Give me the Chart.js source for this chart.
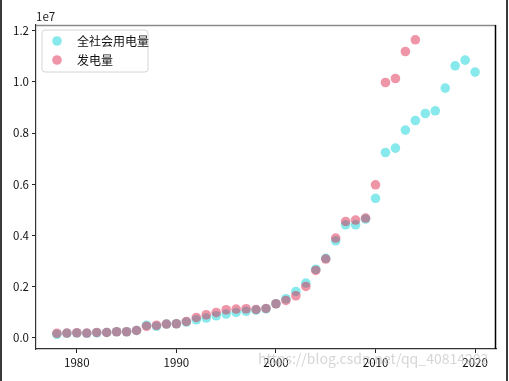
<!DOCTYPE html>
<html>
<head>
<meta charset="utf-8">
<script src="https://cdn.jsdelivr.net/npm/chart.js@4"></script>
<style>
html,body{margin:0;padding:0;background:#fff;}
#wrap{width:509px;height:381px;position:relative;}
</style>
</head>
<body>
<div id="wrap"><canvas id="c" width="509" height="381"></canvas></div>
<script>
const consumptionYears = [1978,1979,1980,1981,1982,1983,1984,1985,1986,1987,1988,1989,1990,1991,1992,1993,1994,1995,1996,1997,1998,1999,2000,2001,2002,2003,2004,2005,2006,2007,2008,2009,2010,2011,2012,2013,2014,2015,2016,2017,2018,2019,2020];
const consumption = [137000,176000,184000,176000,195000,207000,234000,234000,285000,488000,449000,535000,547000,613000,703000,770000,859000,926000,988000,1035000,1082000,1133000,1328000,1523000,1809000,2137000,2676000,3105000,3789000,4414000,4414000,4637000,5449000,7238000,7410000,8113000,8488000,8762000,8867000,9754000,10625000,10848000,10379000];
const generationYears = [1978,1979,1980,1981,1982,1983,1984,1985,1986,1987,1988,1989,1990,1991,1992,1993,1994,1995,1996,1997,1998,1999,2000,2001,2002,2003,2004,2005,2006,2007,2008,2009,2010,2011,2012,2013,2014];
const generation = [176000,184000,195000,184000,207000,207000,234000,234000,285000,449000,488000,535000,547000,637000,793000,898000,988000,1094000,1121000,1133000,1105000,1145000,1328000,1457000,1641000,2004000,2629000,3074000,3895000,4543000,4598000,4676000,5977000,9973000,10129000,11184000,11641000];
const seriesNames = ['全社会用电量','发电量'];
const xTicks = [1980,1990,2000,2010,2020];
const yTicks = [0,2000000,4000000,6000000,8000000,10000000,12000000];

const FONT = '"Noto Sans CJK SC","Noto Sans",sans-serif';
const cyan = 'rgba(0,208,212,0.47)';
const pink = 'rgba(222,30,70,0.47)';

const toPts = (xs, ys) => xs.map((x,i)=>({x:x,y:ys[i]}));

const framePlugin = {
  id:'frame',
  beforeDraw(chart){
    const ctx = chart.ctx;
    ctx.save();
    ctx.fillStyle='#fff';
    ctx.fillRect(0,0,chart.width,chart.height);
    ctx.restore();
  },
  afterDraw(chart){
    const ctx = chart.ctx;
    const a = chart.chartArea;
    ctx.save();
    ctx.lineWidth = 1.5;
    ctx.strokeStyle = '#8a8a8a';
    ctx.beginPath(); ctx.moveTo(a.left, a.top+0.5); ctx.lineTo(a.right, a.top+0.5); ctx.stroke();
    ctx.strokeStyle = '#000';
    ctx.beginPath(); ctx.moveTo(a.right-0.5, a.top); ctx.lineTo(a.right-0.5, a.bottom); ctx.stroke();
    ctx.fillStyle = '#222';
    ctx.font = '11.5px ' + FONT;
    ctx.textAlign='left'; ctx.textBaseline='alphabetic';
    ctx.fillText('1e7', a.left, a.top-4);
    const bx=42, by=30, bw=106, bh=42, r=3;
    ctx.beginPath();
    ctx.moveTo(bx+r,by); ctx.lineTo(bx+bw-r,by); ctx.quadraticCurveTo(bx+bw,by,bx+bw,by+r);
    ctx.lineTo(bx+bw,by+bh-r); ctx.quadraticCurveTo(bx+bw,by+bh,bx+bw-r,by+bh);
    ctx.lineTo(bx+r,by+bh); ctx.quadraticCurveTo(bx,by+bh,bx,by+bh-r);
    ctx.lineTo(bx,by+r); ctx.quadraticCurveTo(bx,by,bx+r,by); ctx.closePath();
    ctx.fillStyle='rgba(255,255,255,0.85)'; ctx.fill();
    ctx.strokeStyle='#d6d6d6'; ctx.lineWidth=1; ctx.stroke();
    const ds = chart.data.datasets;
    const rows=[41,60];
    ds.forEach((d,i)=>{
      ctx.beginPath(); ctx.arc(57, rows[i], 4.8, 0, Math.PI*2);
      ctx.fillStyle=d.backgroundColor; ctx.fill();
      ctx.fillStyle='#111'; ctx.font='12px '+FONT;
      ctx.textBaseline='middle'; ctx.textAlign='left';
      ctx.fillText(d.label, 77, rows[i]);
    });
    ctx.font='14px '+FONT;
    ctx.fillStyle='rgba(200,200,200,0.75)';
    ctx.textBaseline='alphabetic'; ctx.textAlign='left';
    ctx.fillText('https://blog.csdn.net/qq_40814202', 258, 364);
    ctx.fillStyle='#3a3a3a';
    ctx.fillRect(0,0,2,chart.height);
    ctx.fillRect(506,0,2,chart.height);
    ctx.restore();
  }
};

new Chart(document.getElementById('c'), {
  type:'scatter',
  data:{
    datasets:[
      {label:seriesNames[0], order:1, data:toPts(consumptionYears, consumption), backgroundColor:cyan, borderColor:cyan, borderWidth:0, pointRadius:4.8, pointHoverRadius:4.8},
      {label:seriesNames[1], order:0, data:toPts(generationYears, generation), backgroundColor:pink, borderColor:pink, borderWidth:0, pointRadius:4.8, pointHoverRadius:4.8}
    ]
  },
  options:{
    responsive:false,
    animation:false,
    events:[],
    layout:{padding:{left:0,top:25,right:13,bottom:0}},
    plugins:{legend:{display:false}, tooltip:{enabled:false}},
    scales:{
      x:{
        type:'linear', min:1975.9, max:2022.1,
        afterBuildTicks(s){ s.ticks = xTicks.map(v=>({value:v})); },
        afterFit(s){ s.height = 32; },
        grid:{drawOnChartArea:false, drawTicks:true, tickLength:4, tickColor:'#222', tickWidth:1},
        border:{display:true, color:'#333', width:1.2},
        ticks:{color:'#111', font:{family:FONT, size:11.5}, padding:3, maxRotation:0, autoSkip:false, callback:v=>String(v)}
      },
      y:{
        type:'linear', min:-440000, max:12220000,
        afterBuildTicks(s){ s.ticks = yTicks.map(v=>({value:v})); },
        afterFit(s){ s.width = 36; },
        grid:{drawOnChartArea:false, drawTicks:true, tickLength:4, tickColor:'#222', tickWidth:1},
        border:{display:true, color:'#333', width:1.2},
        ticks:{color:'#111', font:{family:FONT, size:11.5}, padding:3, autoSkip:false, callback:v=>(v/1e7).toFixed(1)}
      }
    }
  },
  plugins:[framePlugin]
});
</script>
</body>
</html>
